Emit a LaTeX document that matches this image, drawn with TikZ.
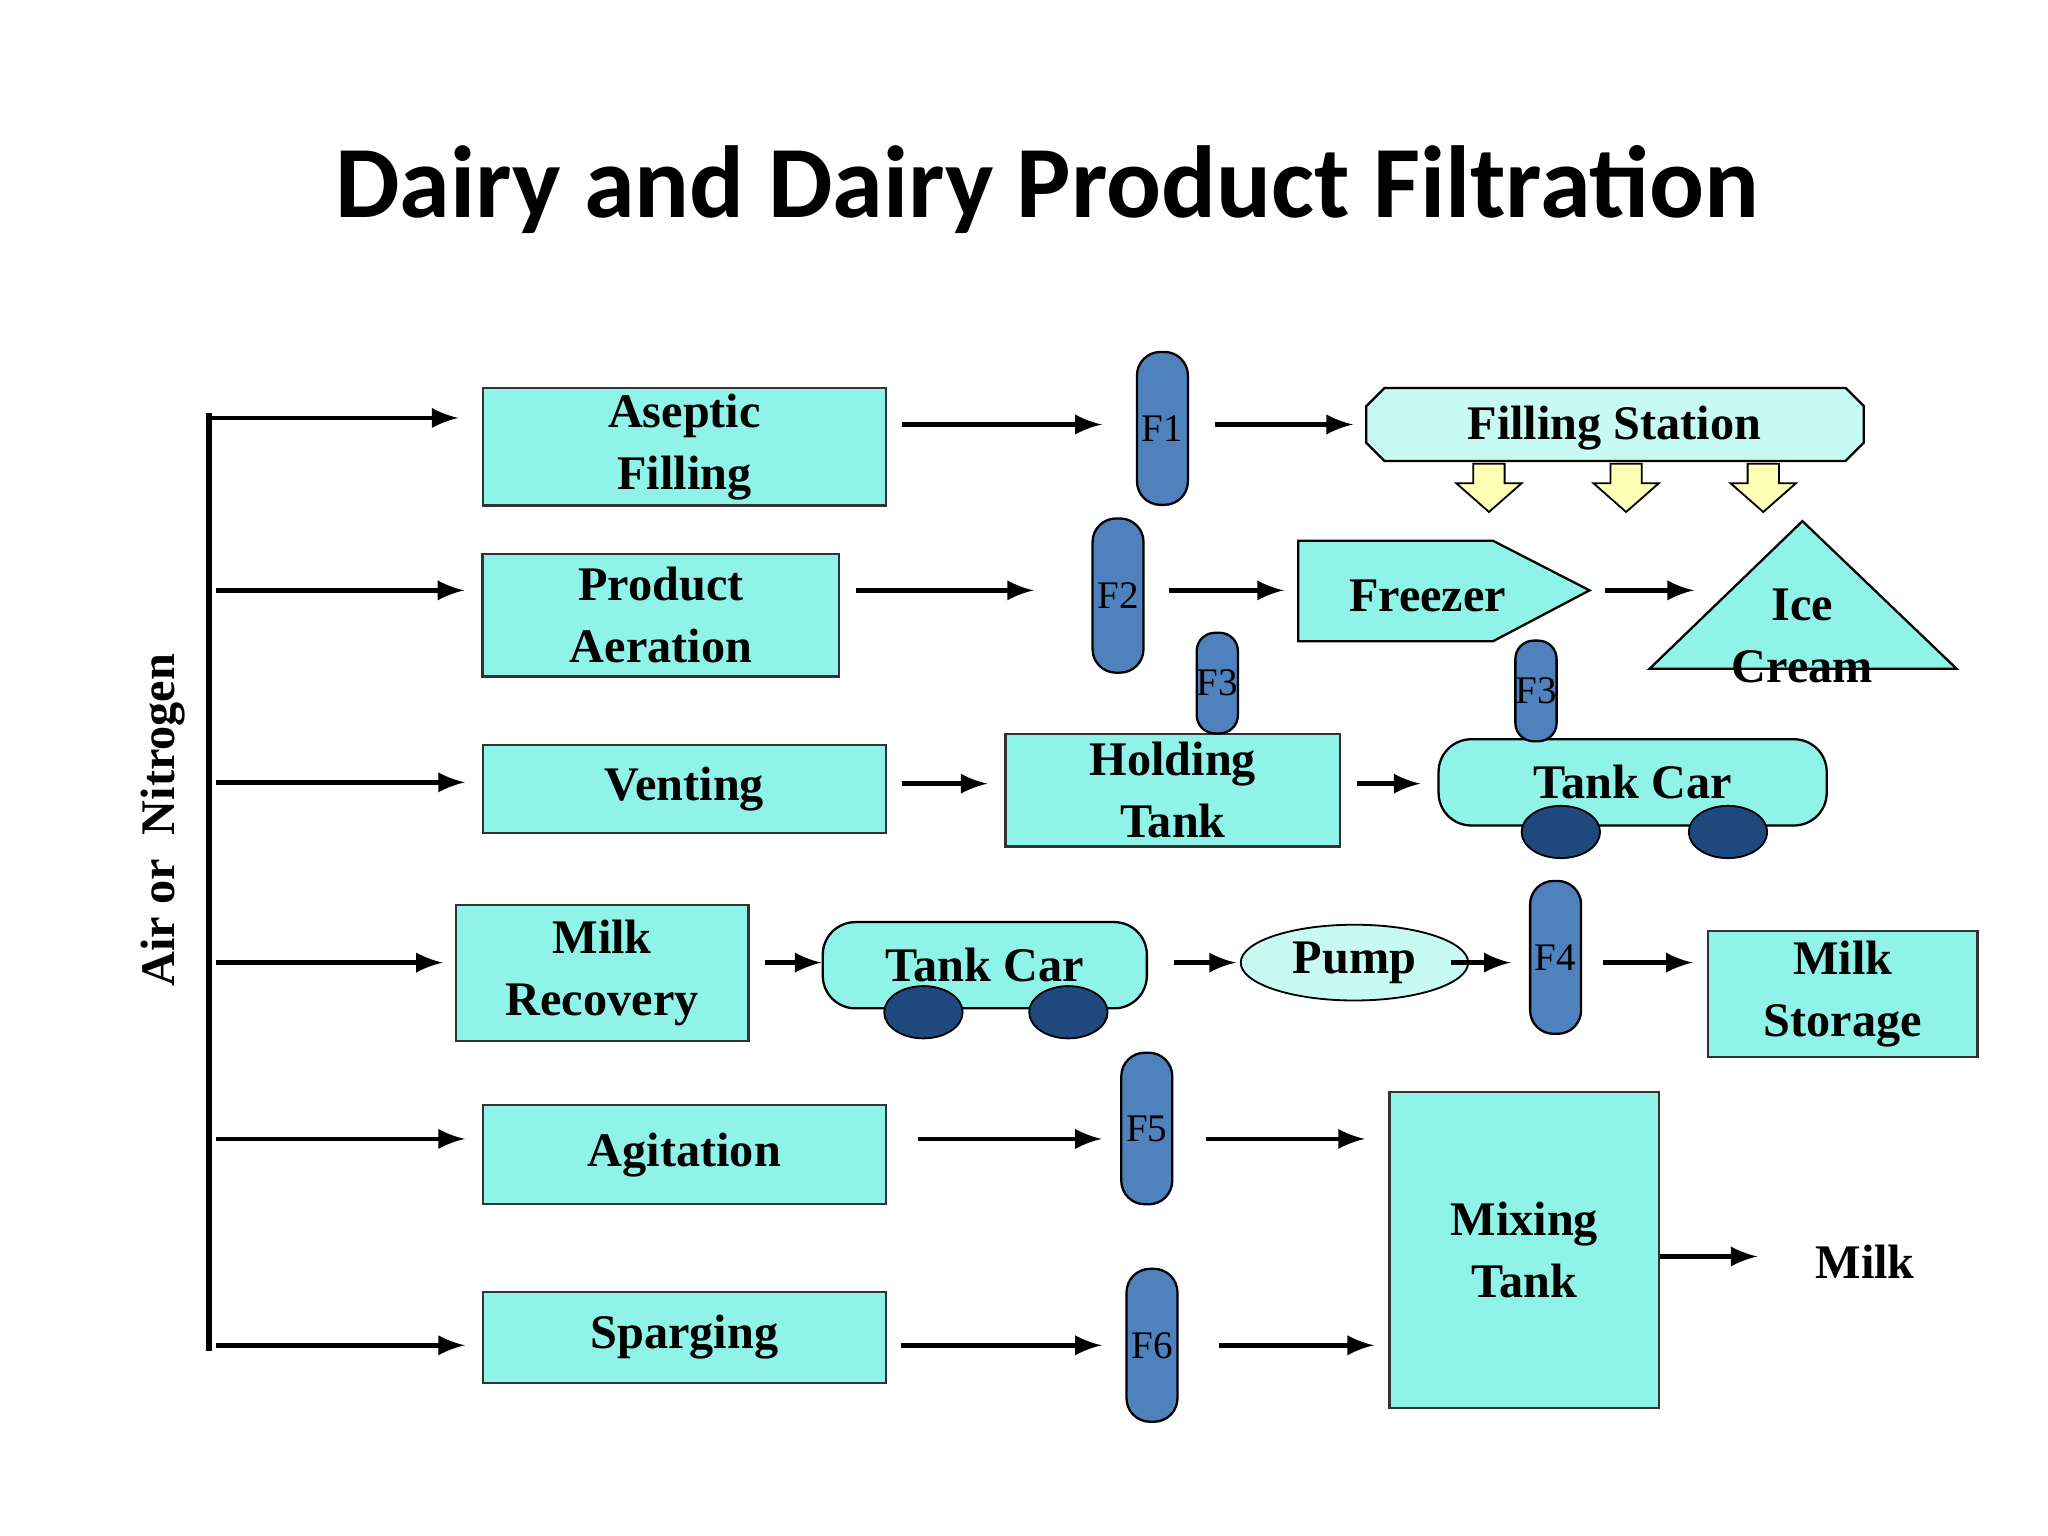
\documentclass[tikz,border=0pt]{standalone}
\usepackage{fontspec}
\setmainfont{Liberation Serif}
\newfontfamily\titlefont{Carlito}
\usetikzlibrary{shapes.misc,shapes.geometric}
\definecolor{aqua}{HTML}{8FF3E8}
\definecolor{paqua}{HTML}{C8FAF4}
\definecolor{fblue}{HTML}{4F81BD}
\definecolor{wheel}{HTML}{1F497D}
\definecolor{yel}{HTML}{FFFFB8}
\tikzset{
 box/.style={draw=black!80,fill=aqua,line width=0.5pt,font=\fontsize{10.5}{13.5}\selectfont\bfseries,align=center,inner sep=0pt},
 filt/.style={draw=black,fill=fblue,rounded corners=1.8mm,line width=0.5pt,minimum width=0.39cm,font=\fontsize{8.5}{10}\selectfont,inner sep=0pt},
 arr/.style={-latex,line width=1pt},
 car/.style={draw=black,fill=aqua,rounded corners=2.5mm,line width=0.5pt,font=\fontsize{10.5}{13}\selectfont\bfseries,inner sep=0pt},
 whl/.style={draw=black,fill=wheel,ellipse,minimum width=0.6cm,minimum height=0.4cm,inner sep=0pt},
 yarr/.style={draw=black,fill=yel,line width=0.4pt,line join=miter},
 lbl/.style={font=\fontsize{10.5}{13.5}\selectfont\bfseries,align=center}
}
\begin{document}
\begin{tikzpicture}[x=0.01cm,y=-0.01cm]
\useasboundingbox (0,0) rectangle (1568,1176);
\node[font=\titlefont\fontsize{22.3}{27}\selectfont\bfseries] (title) at (802,145) {Dairy and Dairy Product Filtration};
% bus
\draw[line width=1.5pt] (160,316) -- (160,1034);
\coordinate (bus) at (160,0);
\node[lbl,rotate=90] (air) at (125,628) {Air or\ \ Nitrogen};
% row1
\node[box,minimum width=3.08cm,minimum height=0.90cm] (asep) at (524,342) {Aseptic\\Filling};
\node[filt,minimum height=1.17cm] (f1) at (890,328) {F1};
\draw[draw=black,fill=paqua,line width=0.5pt] (1060,297) -- (1413,297) -- (1427,311) -- (1427,339) -- (1413,353) -- (1060,353) -- (1046,339) -- (1046,311) -- cycle;
\node[lbl] (fill) at (1236,328) {Filling Station};
\coordinate (fillw) at (1046,325);
\foreach \xx/\nm in {1140/ya,1245/yb,1350/yc}{
 \draw[yarr] (\xx-12,355) -- (\xx+12,355) -- (\xx+12,370) -- (\xx+25,370) -- (\xx,392) -- (\xx-25,370) -- (\xx-12,370) -- cycle;}
\draw[arr] (bus |- 0,320) -- ([shift={(-18,0)}]asep.west |- 0,320);
\draw[arr,shorten <=0.12cm,shorten >=0.26cm] (asep.east |- 0,325) -- (f1.west |- 0,325);
\draw[arr,shorten <=0.40cm,shorten >=0.10cm] (f1 |- 0,325) -- (fillw);
% row2
\node[box,minimum width=2.73cm,minimum height=0.94cm] (aer) at (506,471) {Product\\Aeration};
\node[filt,minimum height=1.18cm] (f2) at (856,456) {F2};
\draw[draw=black,fill=aqua,line width=0.5pt] (994,414) -- (1143,414) -- (1217,452) -- (1143,491) -- (994,491) -- cycle;
\node[lbl] (frz) at (1093,456) {Freezer};
\coordinate (frzw) at (994,452);
\coordinate (frze) at (1217,452);
\draw[draw=black,fill=aqua,line width=0.5pt] (1380,399) -- (1498,512) -- (1263,512) -- cycle;
\node[lbl] (ice) at (1380,487) {Ice\\Cream};
\coordinate (icew) at (1309,452);
\draw[arr] (bus |- 0,452) ++(5,0) -- ([shift={(-13,0)}]aer.west |- 0,452);
\draw[arr,shorten <=0.12cm,shorten >=0.44cm] (aer.east |- 0,452) -- (f2.west |- 0,452);
\draw[arr,shorten <=0.39cm,shorten >=0.11cm] (f2 |- 0,452) -- (frzw);
\draw[arr,shorten <=0.12cm,shorten >=0.12cm] (frze) -- (icew);
% row3
\node[box,minimum width=3.08cm,minimum height=0.67cm] (vent) at (524,604) {\raisebox{-0.7ex}{Venting}};
\node[box,minimum width=2.56cm,minimum height=0.86cm] (hold) at (898,605) {Holding\\Tank};
\node[filt,minimum width=0.31cm,minimum height=0.77cm,rounded corners=1.4mm] (f3a) at (932,523) {F3};
\node[car,minimum width=2.97cm,minimum height=0.66cm] (tc1) at (1250,599) {Tank Car};
\node[filt,minimum width=0.31cm,minimum height=0.77cm,rounded corners=1.4mm] (f3b) at (1176,529) {F3};
\node[whl] (w1) at (1195,637) {};
\node[whl] (w2) at (1323,637) {};
\draw[arr] (bus |- 0,599) ++(5,0) -- ([shift={(-13,0)}]vent.west |- 0,599);
\draw[arr,shorten <=0.12cm,shorten >=0.13cm] (vent.east |- 0,600) -- (hold.west |- 0,600);
\draw[arr,shorten <=0.12cm,shorten >=0.13cm] (hold.east |- 0,600) -- (tc1.west |- 0,600);
% row4
\node[box,minimum width=2.24cm,minimum height=1.04cm] (mrec) at (461,745) {Milk\\Recovery};
\node[car,minimum width=2.48cm,minimum height=0.66cm] (tc2) at (754,739) {Tank Car};
\node[whl] (w3) at (707,775) {};
\node[whl] (w4) at (818,775) {};
\node[ellipse,draw=black,fill=paqua,minimum width=1.74cm,minimum height=0.58cm,inner sep=0pt,font=\fontsize{10.5}{13}\selectfont\bfseries] (pump) at (1037,737) {Pump};
\node[filt,minimum height=1.17cm] (f4) at (1191,733) {F4};
\node[box,minimum width=2.06cm,minimum height=0.96cm] (mst) at (1411,761) {Milk\\Storage};
\draw[arr] (bus |- 0,737) ++(5,0) -- ([shift={(-9,0)}]mrec.west |- 0,737);
\draw[arr,shorten <=0.12cm,shorten >=0cm] (mrec.east |- 0,737) -- (tc2.west |- 0,737);
\draw[arr,shorten <=0.20cm,shorten >=0.03cm] (tc2.east |- 0,737) -- (pump.west |- 0,737);
\draw[arr,shorten <=-0.14cm,shorten >=0.14cm] (pump.east |- 0,737) -- (f4.west |- 0,737);
\draw[arr,shorten <=0.36cm,shorten >=0.11cm] (f4 |- 0,737) -- (mst.west |- 0,737);
% row5 & 6
\node[box,minimum width=3.08cm,minimum height=0.76cm] (agit) at (524,884) {\raisebox{-0.7ex}{Agitation}};
\node[filt,minimum height=1.16cm] (f5) at (878,864) {F5};
\node[box,minimum width=3.08cm,minimum height=0.70cm] (sparg) at (524,1024) {Sparging};
\node[filt,minimum height=1.17cm] (f6) at (882,1030) {F6};
\node[box,minimum width=2.06cm,minimum height=2.42cm] (mix) at (1167,957) {Mixing\\Tank};
\node[lbl] (milk) at (1428,966) {Milk};
\draw[arr] (bus |- 0,872) ++(5,0) -- ([shift={(-13,0)}]agit.west |- 0,872);
\draw[arr,shorten <=0.24cm,shorten >=0.14cm] (agit.east |- 0,872) -- (f5.west |- 0,872);
\draw[arr,shorten <=0.25cm,shorten >=0.18cm] (f5.east |- 0,872) -- (mix.west |- 0,872);
\draw[arr] (bus |- 0,1030) ++(5,0) -- ([shift={(-13,0)}]sparg.west |- 0,1030);
\draw[arr,shorten <=0.11cm,shorten >=0.18cm] (sparg.east |- 0,1030) -- (f6.west |- 0,1030);
\draw[arr,shorten <=0.31cm,shorten >=0.11cm] (f6.east |- 0,1030) -- (mix.west |- 0,1030);
\draw[arr,shorten >=0.32cm] (mix.east |- 0,962) -- (milk.west |- 0,962);
\end{tikzpicture}
\end{document}
